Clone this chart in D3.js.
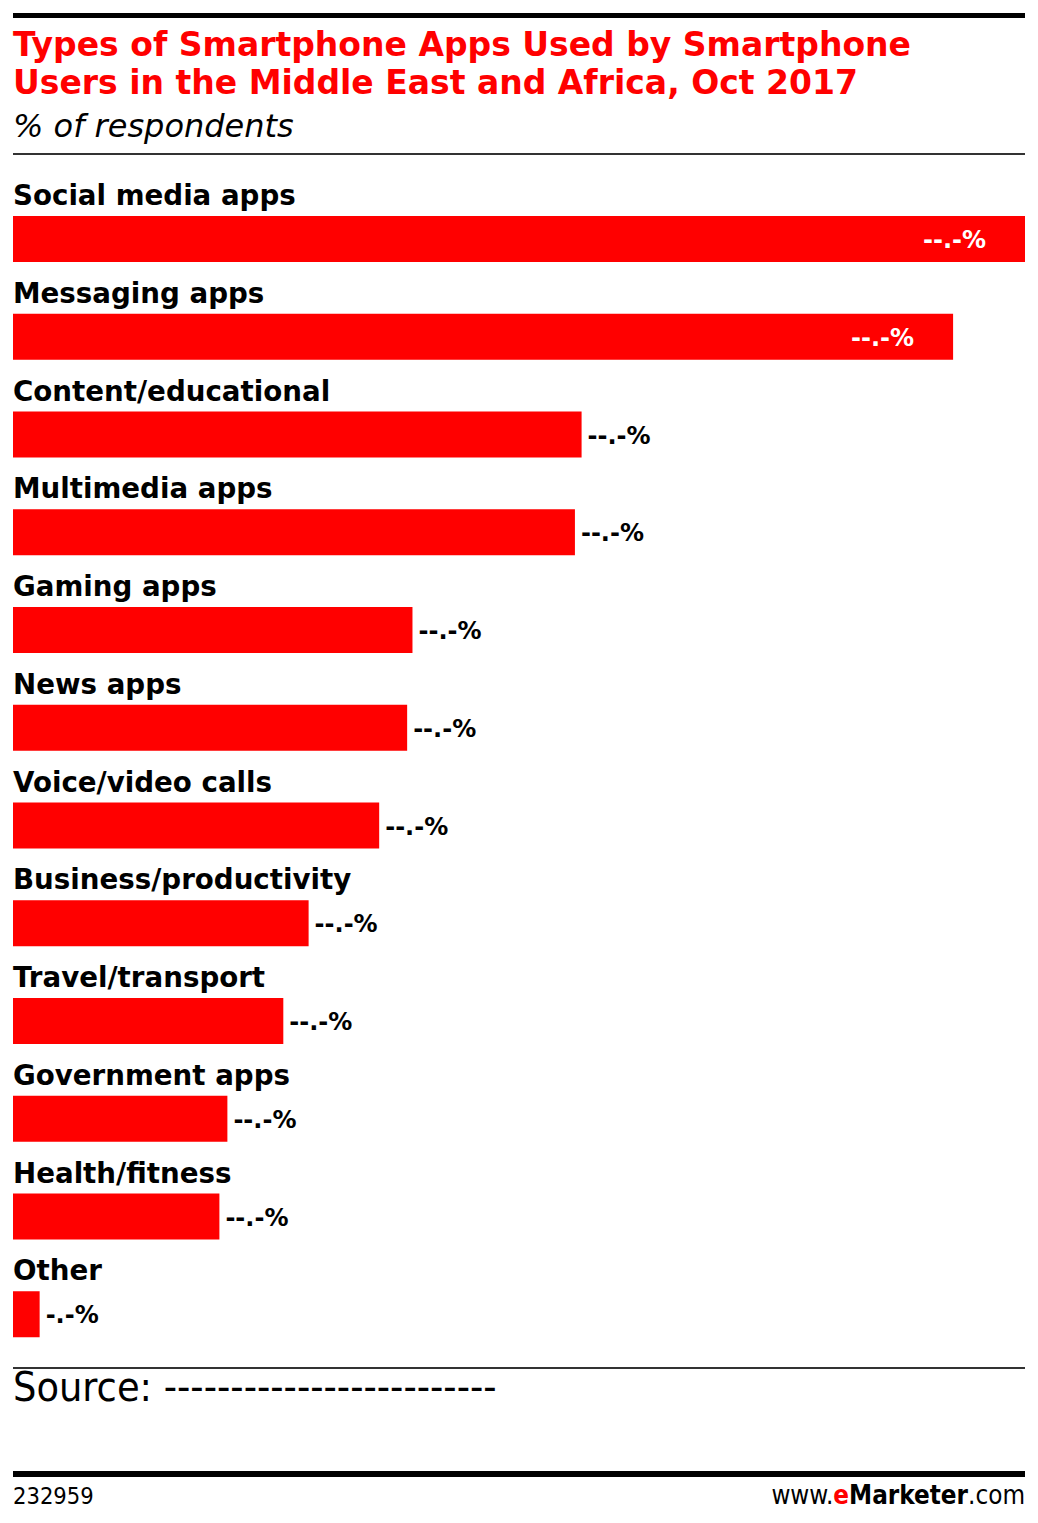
<!DOCTYPE html>
<html lang="en">
<head>
<meta charset="UTF-8">
<title>Types of Smartphone Apps Used</title>
<script src="https://cdn.jsdelivr.net/npm/d3@7"></script>
<style>
  body { margin: 0; background: #fff; }
  svg text { font-family: "DejaVu Sans", Verdana, sans-serif; }
  svg text.cond { font-family: "DejaVu Sans Condensed", "DejaVu Sans", sans-serif; font-stretch: condensed; }
</style>
</head>
<body>
<div id="chart"></div>
<script>
    // categories and values (% of respondents)
    const categories = ["Social media apps", "Messaging apps", "Content/educational", "Multimedia apps",
        "Gaming apps", "News apps", "Voice/video calls", "Business/productivity", "Travel/transport",
        "Government apps", "Health/fitness", "Other"];
    const values = [76.0, 70.6, 42.7, 42.2, 30.0, 29.6, 27.5, 22.2, 20.3, 16.1, 15.5, 2.0];
    const valueLabels = ["--.-%", "--.-%", "--.-%", "--.-%", "--.-%", "--.-%", "--.-%", "--.-%",
        "--.-%", "--.-%", "--.-%", "-.-%"];
    const insideCount = 2; // first bars carry their label inside

    const width = 1038, height = 1523;
    const left = 13, right = 1025;
    const red = "#ff0000";

    const svg = d3.select("#chart")
        .append("svg")
        .attr("width", width)
        .attr("height", height)
        .attr("viewBox", [0, 0, width, height]);

    // header
    svg.append("rect").attr("x", left).attr("y", 13).attr("width", right - left).attr("height", 5).attr("fill", "#000");
    svg.append("text").attr("x", left).attr("y", 56)
        .attr("font-size", 33).attr("font-weight", "bold").attr("fill", red)
        .text("Types of Smartphone Apps Used by Smartphone");
    svg.append("text").attr("x", left).attr("y", 94)
        .attr("font-size", 33).attr("font-weight", "bold").attr("fill", red)
        .text("Users in the Middle East and Africa, Oct 2017");
    svg.append("text").attr("x", left).attr("y", 137)
        .attr("font-size", 32).attr("font-style", "italic").attr("font-weight", 300).attr("fill", "#000")
        .text("% of respondents");
    svg.append("rect").attr("x", left).attr("y", 153).attr("width", right - left).attr("height", 2).attr("fill", "#333");

    // scales
    const x = d3.scaleLinear()
        .domain([0, d3.max(values)])
        .range([left, right]);

    const y = d3.scaleBand()
        .domain(categories)
        .range([216, 216 + 97.75 * categories.length])
        .paddingInner(0);

    const barH = 46;
    const data = categories.map((c, i) => ({ cat: c, v: values[i], lbl: valueLabels[i], i }));

    const rows = svg.append("g")
        .selectAll("g")
        .data(data)
        .join("g")
        .attr("transform", d => `translate(0,${y(d.cat)})`);

    rows.append("text")
        .attr("x", left)
        .attr("y", -11)
        .attr("font-size", 27.7)
        .attr("font-weight", "bold")
        .attr("fill", "#000")
        .text(d => d.cat);

    rows.append("rect")
        .attr("x", x(0))
        .attr("y", 0)
        .attr("width", d => x(d.v) - x(0))
        .attr("height", barH)
        .attr("fill", red);

    rows.append("text")
        .attr("x", d => d.i < insideCount ? x(d.v) - 39 : x(d.v) + 6)
        .attr("y", barH / 2 + 9)
        .attr("text-anchor", d => d.i < insideCount ? "end" : "start")
        .attr("font-size", 24)
        .attr("font-weight", "bold")
        .attr("fill", d => d.i < insideCount ? "#fff" : "#000")
        .text(d => d.lbl);

    // source + footer
    svg.append("rect").attr("x", left).attr("y", 1367).attr("width", right - left).attr("height", 2).attr("fill", "#333");
    svg.append("text").attr("class", "cond").attr("x", left).attr("y", 1401)
        .attr("font-size", 41).attr("fill", "#000")
        .text("Source: -------------------------");
    svg.append("rect").attr("x", left).attr("y", 1471).attr("width", right - left).attr("height", 6).attr("fill", "#000");
    svg.append("text").attr("class", "cond").attr("x", left).attr("y", 1504)
        .attr("font-size", 23.5).attr("fill", "#000")
        .text("232959");
    const site = svg.append("text").attr("class", "cond").attr("x", right).attr("y", 1504)
        .attr("text-anchor", "end").attr("font-size", 25.8).attr("fill", "#000");
    site.append("tspan").text("www.");
    site.append("tspan").attr("fill", red).attr("font-weight", "bold").text("e");
    site.append("tspan").attr("font-weight", "bold").text("Marketer");
    site.append("tspan").text(".com");
</script>
</body>
</html>
